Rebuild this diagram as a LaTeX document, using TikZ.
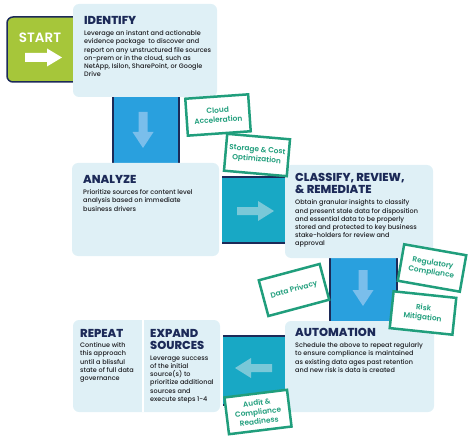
\documentclass[tikz,border=0pt]{standalone}
\usepackage{fontspec}
\setmainfont{Poppins}
\newfontfamily\medfont{Poppins Medium}
\newfontfamily\semifont{Poppins SemiBold}
\newfontfamily\heavyfont{Poppins ExtraBold}
\usetikzlibrary{positioning}
\definecolor{navy}{RGB}{28,42,88}
\definecolor{boxblue}{RGB}{223,240,246}
\definecolor{sqblue}{RGB}{41,160,222}
\definecolor{sqteal}{RGB}{24,168,197}
\definecolor{arrowblue}{RGB}{122,190,235}
\definecolor{arrowteal}{RGB}{122,200,216}
\definecolor{startgreen}{RGB}{166,198,58}
\definecolor{tagteal}{RGB}{32,158,124}
\definecolor{bodygray}{RGB}{30,30,34}

\tikzset{
  stepbox/.style={fill=boxblue, rounded corners=6pt},
  edge/.style={navy, line width=1.3pt},
  title/.style={anchor=north west, inner sep=0pt, align=left, text=navy,
    font=\heavyfont\fontsize{11.5}{12}\selectfont},
  body/.style={anchor=north west, inner sep=0pt, align=left, text=bodygray,
    font=\medfont\fontsize{6.5}{8.2}\selectfont},
  tagbox/.style={draw=tagteal, line width=2.5pt, fill=white, text=tagteal,
    minimum width=63pt, minimum height=37pt, align=center, inner sep=1pt,
    font=\semifont\fontsize{7.4}{9.4}\selectfont}
}

\begin{document}
\begin{tikzpicture}[x=1pt,y=-1pt]
\useasboundingbox (0,0) rectangle (474,441);

% squares between the steps
\fill[sqblue] (113,96) rectangle (179,168);
\draw[edge] (113,96) -- (113,168) (179,96) -- (179,168);
\fill[sqteal] (222,177) rectangle (290,243);
\draw[edge] (222,177) -- (290,177) (222,243) -- (290,243);
\fill[sqblue] (330,255) rectangle (397,323);
\draw[edge] (330,255) -- (330,323) (397,255) -- (397,323);
\fill[sqteal] (223,336) rectangle (290,405);
\draw[edge] (223,336) -- (290,336) (223,405) -- (290,405);

% arrows in the squares
\fill[arrowblue, shift={(143,130)}, rotate=-90] (-18,-4.5) -- (2,-4.5) -- (2,-10.5) -- (18,0) -- (2,10.5) -- (2,4.5) -- (-18,4.5) -- cycle;
\fill[arrowteal, shift={(256,211)}] (-19,-4) -- (2,-4) -- (2,-10) -- (18,0) -- (2,10) -- (2,4) -- (-19,4) -- cycle;
\fill[arrowblue, shift={(363,288)}, rotate=-90] (-18,-4.5) -- (2,-4.5) -- (2,-10.5) -- (18,0) -- (2,10.5) -- (2,4.5) -- (-18,4.5) -- cycle;
\fill[arrowteal, shift={(253,368)}, rotate=180] (-19,-4) -- (2,-4) -- (2,-10) -- (18,0) -- (2,10) -- (2,4) -- (-19,4) -- cycle;

% start
\draw[fill=startgreen, draw=navy, line width=1.5pt, rounded corners=6pt] (7,17) rectangle (82,82);
\node[text=white, inner sep=0pt, font=\semifont\fontsize{13.5}{14}\selectfont] (start) at (40,38) {START};
\fill[white] (25,53) -- (47,53) -- (47,48.5) -- (62,57.5) -- (47,66.5) -- (47,62) -- (25,62) -- cycle;

% step boxes
\fill[stepbox] (73,4) rectangle (217,97);
\fill[stepbox] (72,163) rectangle (219,256);
\fill[stepbox] (285,165) rectangle (433,258);
\fill[stepbox] (285,321) rectangle (434,412);
\fill[stepbox] (73,320) rectangle (220,412);
\draw[white, line width=2pt] (143,320) -- (143,412);

\node[title] (idtitle) at (84,16) {IDENTIFY};
\node[body, below=6pt of idtitle.south west, anchor=north west] (idtext) {Leverage an instant and actionable\\evidence package \ to discover and\\report on any unstructured file sources\\on-prem or in the cloud, such as\\NetApp, Isilon, SharePoint, or Google\\Drive};

\node[title] (antitle) at (83,175) {ANALYZE};
\node[body, below=6pt of antitle.south west, anchor=north west] (antext) {Prioritize sources for content level\\analysis based on immediate\\business drivers};

\node[title] (cltitle) at (295,173) {CLASSIFY, REVIEW,\\\& REMEDIATE};
\node[body, below=6pt of cltitle.south west, anchor=north west] (cltext) {Obtain granular insights to classify\\and present stale data for disposition\\and essential data to be properly\\stored and protected to key business\\stake-holders for review and\\approval};

\node[title] (autitle) at (295,328) {AUTOMATION};
\node[body, below=6pt of autitle.south west, anchor=north west] (autext) {Schedule the above to repeat regularly\\to ensure compliance is maintained\\as existing data ages past retention\\and new risk is data is created};

\node[title] (retitle) at (80,329) {REPEAT};
\node[body, below=5pt of retitle.south west, anchor=north west] (retext) {Continue with\\this approach\\until a blissful\\state of full data\\governance};

\node[title] (extitle) at (150,329) {EXPAND\\SOURCES};
\node[body, below=6pt of extitle.south west, anchor=north west] (extext) {Leverage success\\of the initial\\source(s) to\\prioritize additional\\sources and\\execute steps 1-4};

% tags
\node[tagbox, rotate=4] (cloud) at (218,115) {Cloud\\Acceleration};
\node[tagbox, rotate=-5] (storage) at (257,155) {Storage \& Cost\\Optimization};
\node[tagbox, rotate=-10] (regulatory) at (432,268) {Regulatory\\Compliance};
\node[tagbox, rotate=-6] (risk) at (423,313) {Risk\\Mitigation};
\node[tagbox, rotate=15] (privacy) at (294,290) {Data Privacy};
\node[tagbox, rotate=7] (audit) at (258,412) {Audit \&\\Compliance\\Readiness};

\end{tikzpicture}
\end{document}
